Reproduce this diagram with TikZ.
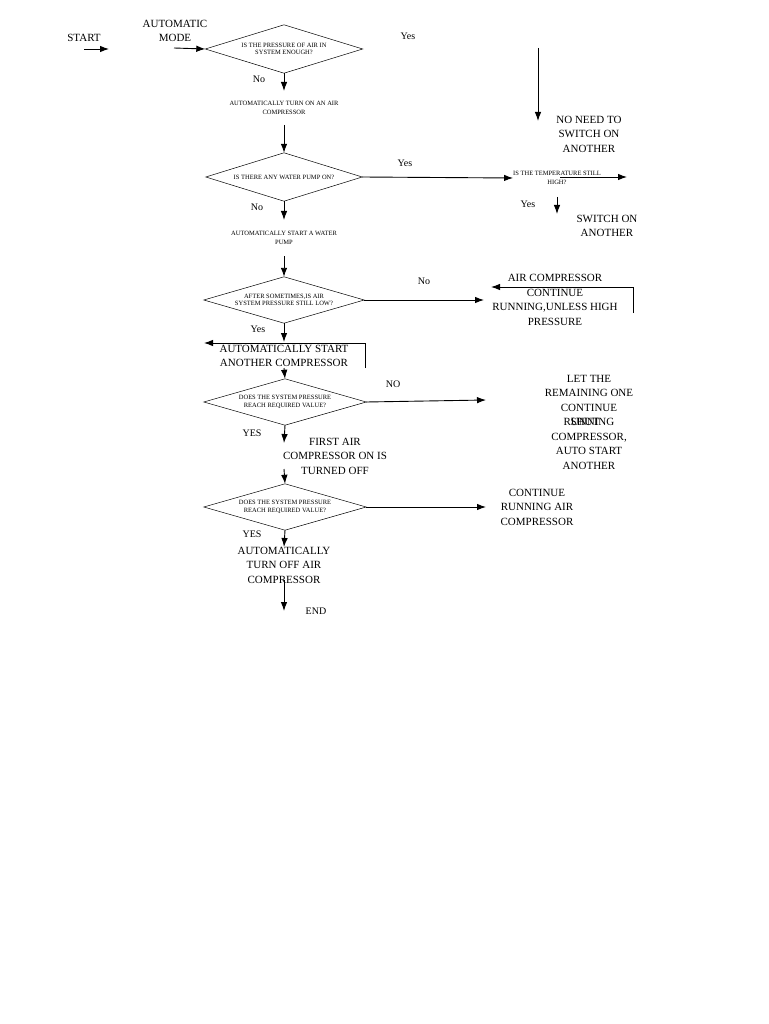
\documentclass[tikz,border=0pt]{standalone}
\usepackage{fontspec}
\setmainfont{Liberation Serif}
\usetikzlibrary{arrows.meta}
\begin{document}
\begin{tikzpicture}[x=1pt,y=-1pt,
  arr/.style={-{Latex[length=9pt,width=6.5pt]},line width=0.9pt},
  dia/.style={rectangle,draw=none,minimum width=160pt,minimum height=47pt,inner sep=0pt,font=\fontsize{6.5}{7.5}\selectfont,align=center},
  diaedge/.style={line width=0.5pt},
  tiny/.style={font=\fontsize{6.5}{7.5}\selectfont,align=center,inner sep=0pt},
  big/.style={font=\fontsize{11}{14.5}\selectfont,align=center,inner sep=0pt},
  lab/.style={font=\fontsize{10}{12}\selectfont,inner sep=0pt}]
\useasboundingbox (0,0) rectangle (768,1024);
\fill[white] (0,0) rectangle (768,1024);
\newcommand\mydia[1]{\draw[diaedge] (#1.west) -- (#1.north) -- (#1.east) -- (#1.south) -- cycle;}
\node[big] (start) at (84,38) {START};
\coordinate (s1) at (84,49); \coordinate (s2) at (109,49);
\draw[arr] (s1) -- (s2);
\node[big,font=\fontsize{11}{14}\selectfont] (auto) at (175,31) {AUTOMATIC\\MODE};
\coordinate (a1) at (174,48);
\node[dia,minimum width=157pt,minimum height=48pt] (d1) at (284,49) {IS THE PRESSURE OF AIR IN\\SYSTEM ENOUGH?};
\mydia{d1}
\draw[arr] (a1) -- (d1.west);
\node[lab] (y1) at (408,36) {Yes};
\coordinate (v1) at (538,48); \coordinate (v2) at (538,121);
\draw[arr] (v1) -- (v2);
\node[big] (noneed) at (589,134) {NO NEED TO\\SWITCH ON\\ANOTHER};
\node[lab] (n1) at (259,79) {No};
\node[tiny] (t1) at (284,108) {AUTOMATICALLY TURN ON AN AIR\\[2pt]COMPRESSOR};
\draw[arr] (d1.south) -- (284,91);
\node[dia,minimum width=156pt,minimum height=48pt] (d2) at (284,177) {IS THERE ANY WATER PUMP ON?};
\mydia{d2}
\draw[arr] (284,125) -- (d2.north);
\node[lab] (y2) at (405,163) {Yes};
\node[tiny] (temp) at (557,178) {IS THE TEMPERATURE STILL\\[1pt]HIGH?};
\draw[arr] (d2.east) -- (temp.west);
\coordinate (tp1) at (560,177); \coordinate (tp2) at (627,177);
\draw[arr] (tp1) -- (tp2);
\node[lab] (y3) at (528,204) {Yes};
\coordinate (ty1) at (557,197); \coordinate (ty2) at (557,214);
\draw[arr] (ty1) -- (ty2);
\node[big] (swon) at (607,226) {SWITCH ON\\ANOTHER};
\node[lab] (n2) at (257,207) {No};
\node[tiny] (t2) at (284,238) {AUTOMATICALLY START A WATER\\[2pt]PUMP};
\draw[arr] (d2.south) -- (284,220);
\node[dia,minimum height=46pt] (d3) at (284,300) {AFTER SOMETIMES,IS AIR\\SYSTEM PRESSURE STILL LOW?};
\mydia{d3}
\draw[arr] (284,256) -- (d3.north);
\node[lab] (n3) at (424,281) {No};
\coordinate (e3) at (484,300);
\draw[arr] (d3.east) -- (e3);
\node[big] (acc) at (555,300) {AIR COMPRESSOR\\CONTINUE\\RUNNING,UNLESS HIGH\\PRESSURE};
\coordinate (b1) at (633,313); \coordinate (b2) at (633,287); \coordinate (b3) at (491,287);
\draw[arr] (b1) -- (b2) -- (b3);
\node[lab] (y4) at (258,329) {Yes};
\node[big] (t3) at (284,356) {AUTOMATICALLY START\\ANOTHER COMPRESSOR};
\draw[arr] (d3.south) -- (284,342);
\coordinate (c1) at (365,368); \coordinate (c2) at (365,343); \coordinate (c3) at (204,343);
\draw[arr] (c1) -- (c2) -- (c3);
\node[dia,minimum width=162pt,minimum height=46pt] (d4) at (285,402) {DOES THE SYSTEM PRESSURE\\REACH REQUIRED VALUE?};
\mydia{d4}
\draw[arr] (284,368) -- (d4.north);
\node[lab] (n4) at (393,384) {NO};
\coordinate (e4) at (486,400);
\draw[arr] (d4.east) -- (e4);
\node[big] (let) at (589,422) {LET THE\\REMAINING ONE\\CONTINUE\\RUNNING\\COMPRESSOR,\\AUTO START\\ANOTHER};
\node[big] (shut) at (585,422) {SHUT};
\node[lab] (y5) at (252,433) {YES};
\draw[arr] (d4.south) -- (284,443);
\node[big] (first) at (335,456) {FIRST AIR\\COMPRESSOR ON IS\\TURNED OFF};
\node[dia,minimum width=162pt,minimum height=46pt] (d5) at (285,507) {DOES THE SYSTEM PRESSURE\\REACH REQUIRED VALUE?};
\mydia{d5}
\draw[arr] (284,469) -- (d5.north);
\coordinate (e5) at (486,507);
\draw[arr] (d5.east) -- (e5);
\node[big] (cont) at (537,507) {CONTINUE\\RUNNING AIR\\COMPRESSOR};
\node[lab] (y6) at (252,534) {YES};
\draw[arr] (d5.south) -- (284,547);
\node[big] (off) at (284,565) {AUTOMATICALLY\\TURN OFF AIR\\COMPRESSOR};
\coordinate (o1) at (284,580); \coordinate (o2) at (284,611);
\draw[arr] (o1) -- (o2);
\node[lab] (end) at (316,611) {END};
\end{tikzpicture}
\end{document}
